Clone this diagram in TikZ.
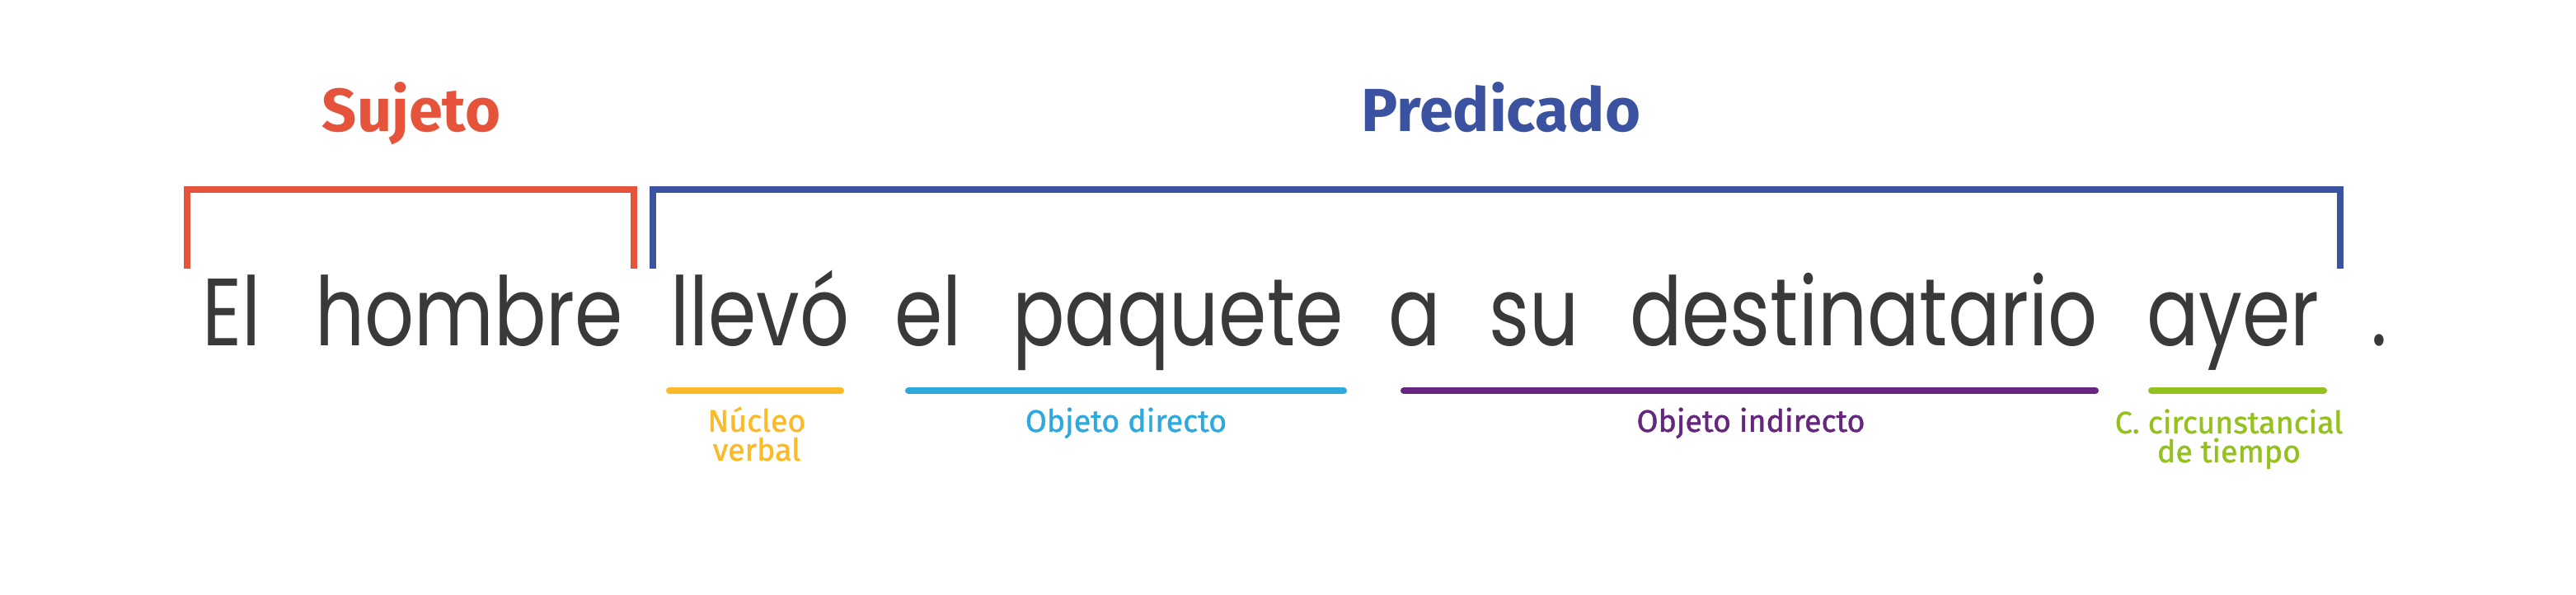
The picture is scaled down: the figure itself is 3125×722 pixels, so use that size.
\documentclass[tikz,border=0pt]{standalone}
\usepackage{fontspec}
\setmainfont{Poppins}
\setsansfont{Fira Sans}
\newfontfamily\tagfont[FakeBold=1.2]{Fira Sans}
\definecolor{ink}{HTML}{393939}
\definecolor{rojo}{HTML}{E5533A}
\definecolor{azul}{HTML}{3B52A0}
\definecolor{amarillo}{HTML}{FBBA27}
\definecolor{celeste}{HTML}{2EA9E0}
\definecolor{morado}{HTML}{66267F}
\definecolor{verde}{HTML}{95C11F}

\begin{document}
\begin{tikzpicture}[x=0.1mm,y=-0.1mm]
\tikzstyle{every node}=[inner sep=0pt, anchor=base]
\tikzstyle{word}=[text=ink, font=\fontsize{33}{40}\selectfont, xscale=.81]
\tikzstyle{tag}=[font=\tagfont\fontsize{10.7}{10}\selectfont, align=center]
\tikzstyle{head}=[font=\sffamily\bfseries\fontsize{21}{24}\selectfont]
\tikzstyle{bar}=[line width=0.8mm, line cap=round]
\useasboundingbox (0,0) rectangle (3125,722);
% heads
\draw (499,160) node (suj) [head,text=rojo] {Sujeto};
\draw (1821,160) node (pred) [head,text=azul] {Predicado};
% sentence
\draw (281,420) node (w1) [word] {El};
\draw (569,420) node (w2) [word] {hombre};
\draw (922,420) node (w3) [word] {llevó};
\draw (1126,420) node (w4) [word] {el};
\draw (1429,420) node (w5) [word] {paquete};
\draw (1716,420) node (w6) [word] {a};
\draw (1861,420) node (w7) [word] {su};
\draw (2261,420) node (w8) [word] {destinatario};
\draw (2709,420) node (w9) [word] {ayer};
\draw (2886,420) node (w10) [word] {.};
% brackets
\draw[bar,rojo,line join=miter,line cap=butt] (227,326) -- (227,230) -- (769,230) -- (769,326);
\draw[bar,azul,line join=miter,line cap=butt] (792,326) -- (792,230) -- (2839,230) -- (2839,326);
% underlines
\draw[bar,amarillo] (812,474) -- (1020,474);
\draw[bar,celeste] (1102,474) -- (1630,474);
\draw[bar,morado] (1703,474) -- (2542,474);
\draw[bar,verde] (2610,474) -- (2819,474);
% tags
\draw (918,559) node (nv) [tag,text=amarillo] {Núcleo\\verbal};
\draw (1366,524) node (od) [tag,text=celeste] {Objeto directo};
\draw (2124,524) node (oi) [tag,text=morado] {Objeto indirecto};
\draw (2704,561) node (cc) [tag,text=verde] {C. circunstancial\\de tiempo};
\end{tikzpicture}
\end{document}
